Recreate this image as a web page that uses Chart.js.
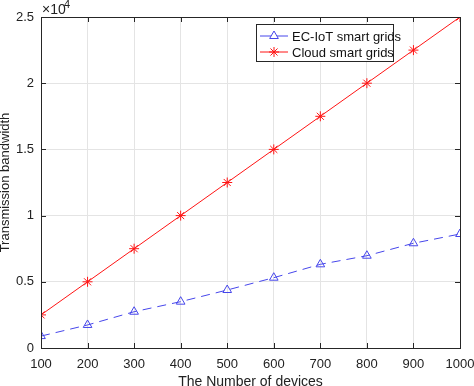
<!DOCTYPE html>
<html>
<head>
<meta charset="utf-8">
<script src="https://cdn.jsdelivr.net/npm/chart.js"></script>
<style>
  html, body { margin: 0; padding: 0; background: #fff; }
  #wrap { width: 474px; height: 386px; }
</style>
</head>
<body>
<div id="wrap"><canvas id="chart"></canvas></div>
<script>
// data
const devices = [100, 200, 300, 400, 500, 600, 700, 800, 900, 1000];
const ecIot = [900, 1740, 2740, 3500, 4380, 5310, 6320, 6970, 7910, 8610];
const cloud = [2500, 5000, 7500, 10000, 12500, 15000, 17500, 20000, 22500, 25000];
const yTicks = [0, 5000, 10000, 15000, 20000, 25000];

const blue = 'rgb(70,70,235)';
const red = 'rgb(255,20,20)';
const font = 'Liberation Sans, Arial, sans-serif';

// frame, inward ticks, exponent label and legend box
const extras = {
    id: 'extras',
    afterDraw(chart) {
        const ctx = chart.ctx;
        const a = chart.chartArea;
        const xs = chart.scales.x, ys = chart.scales.y;
        ctx.save();
        ctx.strokeStyle = '#262626';
        ctx.lineWidth = 1;
        ctx.beginPath();
        devices.forEach(d => {
            const px = Math.round(xs.getPixelForValue(d)) + 0.5;
            ctx.moveTo(px, a.bottom); ctx.lineTo(px, a.bottom - 5);
            ctx.moveTo(px, a.top); ctx.lineTo(px, a.top + 5);
        });
        yTicks.forEach(v => {
            const py = Math.round(ys.getPixelForValue(v)) + 0.5;
            ctx.moveTo(a.left, py); ctx.lineTo(a.left + 5, py);
            ctx.moveTo(a.right, py); ctx.lineTo(a.right - 5, py);
        });
        ctx.stroke();
        ctx.strokeRect(Math.round(a.left) + 0.5, Math.round(a.top) + 0.5,
                       Math.round(a.right - a.left), Math.round(a.bottom - a.top));

        // x10^4
        ctx.fillStyle = '#222';
        ctx.textBaseline = 'alphabetic';
        ctx.font = '14px ' + font;
        ctx.fillText('\u00d710', a.left + 1, a.top - 3);
        ctx.font = '11px ' + font;
        ctx.fillText('4', a.left + 23, a.top - 9);

        // legend
        const lx = 256, ly = 24, lw = 137, lh = 37;
        ctx.fillStyle = '#fff';
        ctx.fillRect(lx, ly, lw, lh);
        ctx.strokeStyle = '#262626';
        ctx.strokeRect(lx + 0.5, ly + 0.5, lw, lh);
        const rows = [
            { label: 'EC-IoT smart grids', color: blue, style: 'triangle' },
            { label: 'Cloud smart grids', color: red, style: 'star' }
        ];
        rows.forEach((r, i) => {
            const cy = ly + 12 + i * 16;
            ctx.strokeStyle = r.color;
            ctx.beginPath();
            ctx.moveTo(lx + 4, cy); ctx.lineTo(lx + 32, cy);
            ctx.stroke();
            Chart.helpers.drawPoint(ctx, { pointStyle: r.style, radius: 5, borderWidth: 1 }, lx + 18, cy);
            ctx.fillStyle = '#111';
            ctx.font = '13px ' + font;
            ctx.textBaseline = 'middle';
            ctx.fillText(r.label, lx + 36, cy + 1);
        });
        ctx.restore();
    }
};

new Chart(document.getElementById('chart'), {
    type: 'line',
    data: {
        datasets: [
            {
                label: 'EC-IoT smart grids',
                data: devices.map((d, i) => ({ x: d, y: ecIot[i] })),
                borderColor: blue,
                backgroundColor: 'rgba(0,0,0,0)',
                borderWidth: 1,
                borderDash: [9, 6],
                pointStyle: 'triangle',
                pointRadius: 5,
                pointBorderWidth: 1,
                pointBorderColor: blue
            },
            {
                label: 'Cloud smart grids',
                data: devices.map((d, i) => ({ x: d, y: cloud[i] })),
                borderColor: red,
                backgroundColor: 'rgba(0,0,0,0)',
                borderWidth: 1,
                pointStyle: 'star',
                pointRadius: 5,
                pointBorderWidth: 1,
                pointBorderColor: red
            }
        ]
    },
    options: {
        responsive: true,
        maintainAspectRatio: false,
        animation: false,
        layout: { padding: { left: 0, right: 14, top: 17, bottom: 0 } },
        plugins: { legend: { display: false }, tooltip: { enabled: false } },
        scales: {
            x: {
                type: 'linear',
                min: 100,
                max: 1000,
                afterBuildTicks: s => { s.ticks = devices.map(v => ({ value: v })); },
                afterFit: s => { s.height = 38; s.paddingLeft = 0; s.paddingRight = 0; },
                grid: { color: '#e4e4e4', drawTicks: false },
                border: { display: false },
                ticks: { color: '#222', font: { family: font, size: 13 }, padding: 9, maxRotation: 0,
                         callback: v => String(v) },
                title: { display: true, text: 'The Number of devices', color: '#222',
                         font: { family: font, size: 14 }, padding: { top: 6, bottom: -5 } }
            },
            y: {
                min: 0,
                max: 25000,
                afterBuildTicks: s => { s.ticks = yTicks.map(v => ({ value: v })); },
                afterFit: s => { s.width = 41; s.paddingTop = 0; s.paddingBottom = 0; },
                grid: { color: '#e4e4e4', drawTicks: false },
                border: { display: false },
                ticks: { color: '#222', font: { family: font, size: 13 }, padding: 7,
                         callback: v => String(v / 10000) },
                title: { display: true, text: 'Transmission bandwidth', color: '#222',
                         font: { family: font, size: 13 }, padding: { top: -2, bottom: 0 } }
            }
        }
    },
    plugins: [extras]
});
</script>
</body>
</html>
